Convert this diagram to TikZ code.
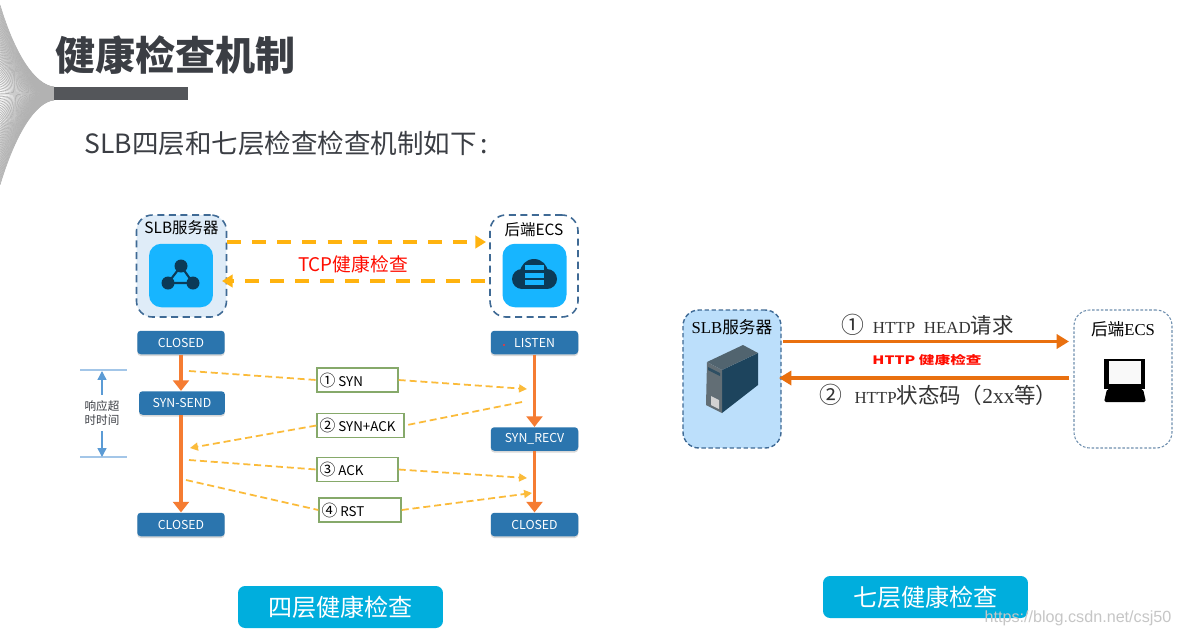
\documentclass[tikz,border=0pt]{standalone}
\usepackage{fontspec}
\setmainfont{Noto Sans CJK SC}
\newfontfamily\serifpart{Liberation Serif}
\newfontfamily\markpart{Liberation Sans}
\usetikzlibrary{arrows.meta,shadows}
\definecolor{titleGray}{HTML}{3B3E44}
\definecolor{barGray}{HTML}{54565A}
\definecolor{stateBlue}{HTML}{2B75AE}
\definecolor{iconBlue}{HTML}{17B5FF}
\definecolor{iconDark}{HTML}{0B3A57}
\definecolor{dashBlue}{HTML}{3F6A95}
\definecolor{paleBlue}{HTML}{DFECF8}
\definecolor{skyBlue}{HTML}{BCDFFB}
\definecolor{flowOrange}{HTML}{F57C32}
\definecolor{tcpYellow}{HTML}{FFB30F}
\definecolor{msgYellow}{HTML}{FBBB3A}
\definecolor{msgGreen}{HTML}{86A96A}
\definecolor{httpOrange}{HTML}{E9700F}
\definecolor{buttonBlue}{HTML}{00AEDD}
\definecolor{timeBlue}{HTML}{5B9BD5}
\definecolor{timeLine}{HTML}{A3C6E8}
\newcommand{\bigdigit}[1]{{\fontsize{13}{14}\selectfont #1}}
\tikzset{
    stateBox/.style={fill=stateBlue, text=white, rounded corners=2pt, inner sep=0pt,
        minimum width=1.75cm, minimum height=0.47cm, font=\fontsize{7}{8}\selectfont,
        drop shadow={shadow xshift=0pt, shadow yshift=-1pt, opacity=0.3}},
    msgBox/.style={draw=msgGreen, line width=0.8pt, fill=white, inner sep=0pt,
        minimum height=0.48cm, font=\fontsize{7.6}{9}\selectfont},
    hostBox/.style={draw=dashBlue, line width=0.9pt, dash pattern=on 4pt off 2.6pt,
        rounded corners=9pt, inner sep=0pt},
    iconBox/.style={fill=iconBlue, rounded corners=7pt, inner sep=0pt,
        minimum width=1.28cm, minimum height=1.27cm},
    labelText/.style={inner sep=0pt, font=\fontsize{8.8}{10}\selectfont},
    stateArrow/.style={draw=flowOrange, line width=2pt, -{Triangle[length=6pt,width=9pt]}},
    tcpArrow/.style={draw=tcpYellow, line width=2pt, dash pattern=on 8pt off 6.3pt,
        -{Triangle[length=6pt,width=7pt]}},
    msgLine/.style={draw=msgYellow, line width=1pt, dash pattern=on 4pt off 2.2pt},
    msgArrow/.style={msgLine, -{Triangle[length=4.5pt,width=4.5pt]}},
    httpArrow/.style={draw=httpOrange, line width=2.2pt, -{Triangle[length=7pt,width=8pt]}},
    timeArrow/.style={draw=timeBlue, line width=0.8pt, -{Triangle[length=5pt,width=5pt]}},
    bigButton/.style={fill=buttonBlue, text=white, rounded corners=4pt, inner sep=0pt,
        minimum width=4.1cm, minimum height=0.84cm, font=\fontsize{13.7}{16}\selectfont},
}
\begin{document}
\begin{tikzpicture}[x=0.02cm, y=-0.02cm]
\fill[white] (0,0) rectangle (1179,636);
\useasboundingbox (0,0) rectangle (1179,636);

%Titel
    %Faecher
    \foreach \t in {0,0.01,...,1.001}{
        \draw[gray!60, line width=0.35pt] (54,87+13*\t)
            .. controls (35,85+17*\t) and (15,55+80*\t) .. (0,5+180*\t);}
    \fill[barGray] (54,87) rectangle (188,100);
    \node (title) at (55,55)
        [anchor=west, inner sep=0pt, text=titleGray, font=\fontsize{22.8}{26}\selectfont\bfseries]
        {健康检查机制};
    \node (subtitle) at (84,143)
        [anchor=west, inner sep=0pt, text=titleGray, font=\fontsize{15.1}{18}\selectfont]
        {SLB四层和七层检查检查机制如下\hspace{2pt}:};

%Vierschicht
    %Hosts
    \node (slbA) at (181.5,266)
        [hostBox, fill=paleBlue, minimum width=1.8cm, minimum height=2.04cm]
        {};
    \node (ecsA) at (534,266)
        [hostBox, minimum width=1.76cm, minimum height=2.04cm]
        {};
    \node (slbAText) at (181.5,228)
        [labelText]
        {SLB服务器};
    \node (ecsAText) at (534,230)
        [labelText]
        {后端ECS};
    \node (slbIcon) at (181,275.5)
        [iconBox]
        {};
    \node (ecsIcon) at (534.5,275.5)
        [iconBox]
        {};

    %Symbole
    \draw[iconDark, line width=1.2pt] (181,266) -- (168,283) -- (193,283) -- cycle;
    \fill[iconDark] (181,266) circle (6.5);
    \fill[iconDark] (168,283) circle (6.5);
    \fill[iconDark] (193,283) circle (6.5);
    \fill[iconDark] (534,273) circle (14);
    \fill[iconDark] (522,279) circle (10);
    \fill[iconDark] (547,279) circle (10);
    \fill[iconDark] (522,274) rectangle (547,289);
    \foreach \y in {265,272.5,280}{
        \fill[iconBlue] (525,\y) rectangle (544,\y+5);}

    %TCP
    \coordinate (tcpA) at (227,242);
    \coordinate (tcpB) at (486,242);
    \coordinate (tcpC) at (485,281);
    \coordinate (tcpD) at (222,281);
    \draw[tcpArrow] (tcpA) -- (tcpB);
    \draw[tcpArrow] (tcpC) -- (tcpD);
    \node (tcpText) at (353,264)
        [inner sep=0pt, text=red!90!orange, font=\fontsize{10.7}{12}\selectfont]
        {TCP健康检查};

    %Zustaende
    \node (closedA) at (181,342.5)
        [stateBox]
        {CLOSED};
    \node (listen) at (534.5,342.5)
        [stateBox]
        {LISTEN};
    \node (synSend) at (182,403)
        [stateBox, minimum width=1.72cm]
        {SYN-SEND};
    \node (synRecv) at (534.5,439)
        [stateBox]
        {SYN\_RECV};
    \node (closedB) at (181,524.5)
        [stateBox]
        {CLOSED};
    \node (closedC) at (534.5,524.5)
        [stateBox]
        {CLOSED};
    \fill[red!80!white] (504,345) circle (1.2);
    \draw[stateArrow] (closedA.south) -- (closedA.south |- synSend.north);
    \draw[stateArrow] (closedA.south |- synSend.south) -- (closedB.north);
    \draw[stateArrow] (listen.south) -- (synRecv.north);
    \draw[stateArrow] (synRecv.south) -- (closedC.north);

    %Nachrichten
    \node (msgA) at (357.5,380)
        [msgBox, minimum width=1.62cm]
        {\makebox[1.62cm][l]{\hspace{1.5pt}{\fontsize{9}{9}\selectfont ①} SYN}};
    \node (msgB) at (360.5,425.5)
        [msgBox, minimum width=1.74cm]
        {\makebox[1.74cm][l]{\hspace{1.5pt}{\fontsize{9}{9}\selectfont ②} SYN+ACK}};
    \node (msgC) at (357.5,469.5)
        [msgBox, minimum width=1.62cm]
        {\makebox[1.62cm][l]{\hspace{1.5pt}{\fontsize{9}{9}\selectfont ③} ACK}};
    \node (msgD) at (360,510)
        [msgBox, minimum width=1.64cm]
        {\makebox[1.64cm][l]{\hspace{1.5pt}{\fontsize{9}{9}\selectfont ④} RST}};
    \coordinate (synStart) at (189,371);
    \coordinate (synEnd) at (527,389);
    \coordinate (ackStart) at (522,402);
    \coordinate (ackEnd) at (190,448);
    \coordinate (lastStart) at (189,460);
    \coordinate (lastEnd) at (527,478);
    \coordinate (rstStart) at (186,480);
    \coordinate (rstEnd) at (532,493);
    \draw[msgLine] (synStart) -- (msgA.west);
    \draw[msgArrow] (msgA.east) -- (synEnd);
    \draw[msgLine] (ackStart) -- (msgB.east);
    \draw[msgArrow] (msgB.west) -- (ackEnd);
    \draw[msgLine] (lastStart) -- (msgC.west);
    \draw[msgArrow] (msgC.east) -- (lastEnd);
    \draw[msgLine] (rstStart) -- (msgD.west);
    \draw[msgArrow] (msgD.east) -- (rstEnd);

    %Zeitspanne
    \coordinate (timeTopA) at (80,370);
    \coordinate (timeTopB) at (127,370);
    \coordinate (timeLowA) at (80,457);
    \coordinate (timeLowB) at (127,457);
    \draw[timeLine, line width=0.8pt] (timeTopA) -- (timeTopB);
    \draw[timeLine, line width=0.8pt] (timeLowA) -- (timeLowB);
    \node (timeText) at (102,413)
        [align=center, inner sep=0pt, text=titleGray, font=\fontsize{6.6}{8.4}\selectfont]
        {响应超\\时时间};
    \coordinate (timeUp) at (102,371);
    \coordinate (timeDown) at (102,457);
    \draw[timeArrow] (timeText.north) ++(0,-5) -- (timeUp);
    \draw[timeArrow] (timeText.south) ++(0,5) -- (timeDown);

    %Schaltflaeche
    \node (fourButton) at (340.5,607)
        [bigButton]
        {四层健康检查};

%Siebenschicht
    %Hosts
    \node (slbB) at (732,379)
        [hostBox, line width=0.8pt, dash pattern=on 2.5pt off 1.5pt, fill=skyBlue,
         minimum width=1.96cm, minimum height=2.76cm]
        {};
    \node (ecsB) at (1123,379)
        [hostBox, line width=0.6pt, dash pattern=on 1.5pt off 1pt, draw=dashBlue!75,
         minimum width=1.96cm, minimum height=2.76cm]
        {};
    \node (slbBText) at (732,327)
        [labelText, font=\fontsize{9.5}{11}\selectfont]
        {{\serifpart SLB}服务器};
    \node (ecsBText) at (1123,329)
        [labelText, font=\fontsize{9.5}{11}\selectfont]
        {后端{\serifpart ECS}};

    %Server
    \fill[iconDark!85!gray] (722,370) -- (758,353) -- (758,385) -- (722,413) -- cycle;
    \fill[gray!60!iconDark] (707,362) -- (743,345) -- (758,353) -- (722,370) -- cycle;
    \fill[gray!75!iconDark] (707,362) -- (722,370) -- (722,413) -- (706,405) -- cycle;
    \fill[iconDark!70!gray] (708,367) -- (720,373) -- (720,376) -- (708,370) -- cycle;
    \fill[gray!35!white] (711,396) -- (719,400) -- (719,409) -- (711,405) -- cycle;

    %Rechner
    \fill[black] (1104,359) rectangle (1145,389);
    \fill[white!95!gray] (1109,361) rectangle (1141,384);
    \fill[black, rounded corners=1pt] (1107,389) -- (1143,389) -- (1146,402) -- (1104,402) -- cycle;

    %HTTP
    \coordinate (httpA) at (783,341.5);
    \coordinate (httpB) at (1069,341.5);
    \coordinate (httpC) at (1069,378);
    \coordinate (httpD) at (779,378);
    \draw[httpArrow] (httpA) -- (httpB);
    \draw[httpArrow] (httpC) -- (httpD);
    \node (httpReq) at (841,325)
        [anchor=west, inner sep=0pt, text=black!80, font=\fontsize{12.2}{14}\selectfont]
        {\bigdigit{①}\hspace{5pt}{\serifpart\fontsize{9.6}{11}\selectfont HTTP\hspace{5pt}HEAD}请求};
    \node (httpResp) at (819,395)
        [anchor=west, inner sep=0pt, text=black!80, font=\fontsize{12.2}{14}\selectfont]
        {\bigdigit{②}\hspace{7pt}{\serifpart\fontsize{9.6}{11}\selectfont HTTP}状态码（{\serifpart 2xx}等）};
    \node (httpText) at (927,360)
        [inner sep=0pt, text=red!90!orange, font=\fontsize{6.6}{8}\selectfont\bfseries]
        {\scalebox{1.35}[1]{HTTP 健康检查}};

    %Schaltflaeche
    \node (sevenButton) at (925.5,597)
        [bigButton]
        {七层健康检查};
    \node (mark) at (1078,618)
        [inner sep=0pt, text=gray!45, font=\fontsize{9.2}{11}\markpart]
        {https://blog.csdn.net/csj50};
\end{tikzpicture}
\end{document}
